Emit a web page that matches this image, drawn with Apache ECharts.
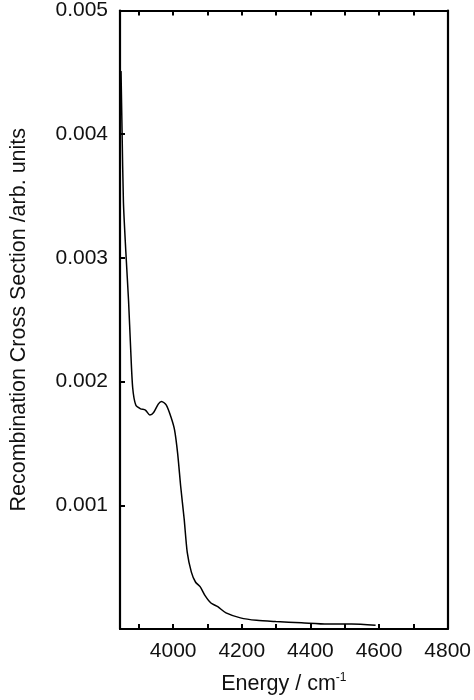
<!DOCTYPE html>
<html>
<head>
<meta charset="utf-8">
<script src="https://cdn.jsdelivr.net/npm/echarts@6/dist/echarts.min.js"></script>
<style>html,body{margin:0;padding:0;background:#fff;}#c{width:474px;height:700px;}</style>
</head>
<body>
<div id="c"></div>
<script>
const energy = [3848, 3851, 3855, 3862, 3870, 3876, 3882, 3891, 3905, 3919, 3932, 3943, 3957, 3966, 3980, 3994, 4004, 4013, 4022, 4032, 4041, 4053, 4065, 4079, 4093, 4110, 4130, 4154, 4196, 4243, 4299, 4374, 4450, 4520, 4590];
const sigma = [0.00451, 0.00403, 0.00345, 0.00305, 0.00265, 0.00227, 0.00195, 0.00181, 0.00178, 0.00177, 0.00173, 0.00175, 0.00182, 0.00184, 0.00181, 0.00171, 0.00161, 0.00142, 0.00115, 0.00089, 0.00062, 0.00046, 0.00038, 0.00034, 0.00027, 0.00021, 0.00018, 0.00013, 0.00009, 0.00007, 0.00006, 0.00005, 0.00004, 0.00004, 0.00003];
const xTicks = [3900, 4000, 4100, 4200, 4300, 4400, 4500, 4600, 4700];
const xLabels = [4000, 4200, 4400, 4600, 4800];
const yTickLabels = ['0.001', '0.002', '0.003', '0.004', '0.005'];

const FONT = 'Liberation Sans, Arial, sans-serif';
const chart = echarts.init(document.getElementById('c'), null, {renderer: 'canvas'});
const axisLine = {show: true, onZero: false, lineStyle: {color: '#000', width: 2.2}};
chart.setOption({
  animation: false,
  backgroundColor: '#fff',
  grid: {left: 112, right: 22, top: 8, bottom: 67, containLabel: false},
  xAxis: [{
    type: 'value', position: 'bottom', min: 3845, max: 4800,
    axisLine: axisLine,
    axisTick: {show: true, inside: true, length: 5, lineStyle: {color: '#000', width: 2}, customValues: xTicks},
    axisLabel: {show: true, customValues: xLabels, margin: 12, color: '#111', fontSize: 21, fontFamily: FONT,
      formatter: function (v) { return String(v); }},
    splitLine: {show: false},
    name: 'Energy / cm{sup|-1}',
    nameLocation: 'middle', nameGap: 43,
    nameTextStyle: {color: '#111', fontSize: 21.5, fontFamily: FONT,
      rich: {sup: {fontSize: 12, fontFamily: FONT, color: '#111', verticalAlign: 'top', padding: [0,0,12,0]}}}
  }, {
    type: 'value', position: 'top', min: 3845, max: 4800,
    axisLine: axisLine,
    axisTick: {show: true, inside: true, length: 5, lineStyle: {color: '#000', width: 2}, customValues: xTicks},
    axisLabel: {show: false}, splitLine: {show: false}
  }],
  yAxis: [{
    type: 'value', position: 'left', min: 0, max: 0.005, interval: 0.001,
    axisLine: axisLine,
    axisTick: {show: true, inside: true, length: 5, lineStyle: {color: '#000', width: 2}},
    axisLabel: {show: true, margin: 12, color: '#111', fontSize: 21, fontFamily: FONT, showMinLabel: false,
      formatter: function (v) { const i = Math.round(v / 0.001) - 1; return i >= 0 ? yTickLabels[i] : ''; }},
    splitLine: {show: false},
    name: 'Recombination Cross Section /arb. units',
    nameLocation: 'middle', nameGap: 90,
    nameTextStyle: {color: '#111', fontSize: 21.5, fontFamily: FONT}
  }, {
    type: 'value', position: 'right', min: 0, max: 0.005,
    axisLine: axisLine, axisTick: {show: false}, axisLabel: {show: false}, splitLine: {show: false}
  }],
  series: [{
    type: 'line', xAxisIndex: 0, yAxisIndex: 0,
    data: energy.map((e, i) => [e, sigma[i]]),
    showSymbol: false, smooth: 0.25,
    lineStyle: {color: '#000', width: 1.5}
  }]
});
</script>
</body>
</html>
